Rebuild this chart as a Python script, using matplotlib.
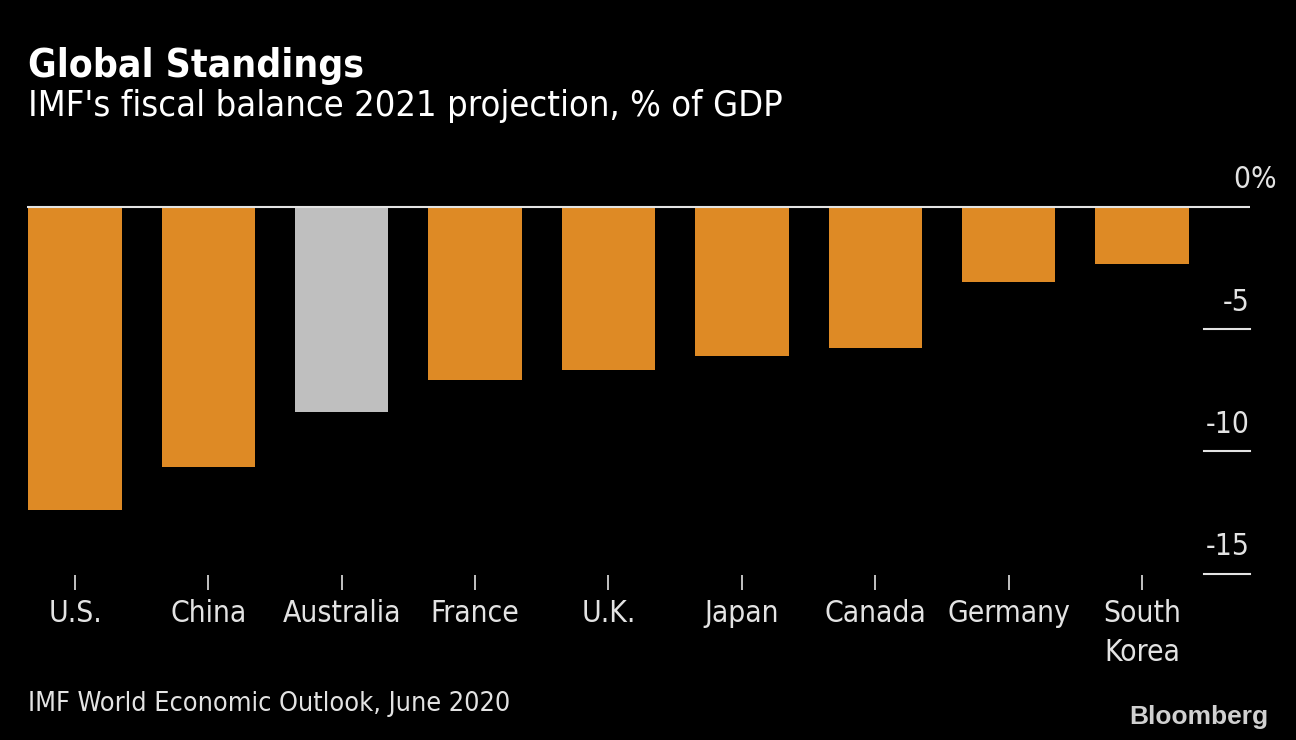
import matplotlib
matplotlib.use("Agg")
import matplotlib.pyplot as plt
import matplotlib.transforms as mtransforms

countries = ["U.S.", "China", "Australia", "France", "U.K.", "Japan", "Canada", "Germany", "South\nKorea"]
values = [-12.4, -10.65, -8.4, -7.1, -6.67, -6.1, -5.76, -3.08, -2.34]
highlight = "Australia"
yticks = [0, -5, -10, -15]
ytick_labels = ["0", "-5", "-10", "-15"]

plt.rcParams['font.family'] = ["DejaVu Sans"]
plt.rcParams['font.stretch'] = "condensed"

ORANGE = "#DE8A25"
GREY = "#BFBFBF"
TXT = "#E3E3E3"
BG = "#000000"

fig = plt.figure(figsize=(12.96, 7.40), dpi=100, facecolor=BG)
ax = fig.add_axes([27/1296, (740-574.5)/740, (1250-27)/1296, 380/740])
ax.set_facecolor(BG)

x = list(range(len(countries)))
colors = [GREY if c == highlight else ORANGE for c in countries]
ax.bar(x, values, width=0.7, color=colors, zorder=2)

ax.set_xlim(-0.36, 8.81)
ax.set_ylim(-15.03, 0.5)

ax.axhline(0, color=TXT, lw=1.5, zorder=3)
trans = mtransforms.blended_transform_factory(ax.transAxes, ax.transData)
for yv, lab in zip(yticks, ytick_labels):
    if yv != 0:
        ax.plot([0.962, 1.0], [yv, yv], transform=trans, color=TXT, lw=1.5, clip_on=False)
    ax.text(1.0, yv + 0.75, lab, transform=trans, ha="right", va="baseline",
            color=TXT, fontsize=21.5, clip_on=False)
ax.text(1.0, yticks[0] + 0.75, "%", transform=trans, ha="left", va="baseline",
        color=TXT, fontsize=21.5, clip_on=False)

ax.set_yticks([])
ax.set_xticks(x)
ax.set_xticklabels(countries, color=TXT, fontsize=21.5, linespacing=1.4)
ax.tick_params(axis="x", colors=TXT, length=11, width=1.2, pad=7, labelcolor=TXT)
for s in ax.spines.values():
    s.set_visible(False)

fig.text(28/1296, 1 - 77/740, "Global Standings", color="white", fontsize=28,
         fontweight="bold", ha="left", va="baseline")
fig.text(28/1296, 1 - 116/740, "IMF's fiscal balance 2021 projection, % of GDP",
         color="white", fontsize=26, ha="left", va="baseline")
fig.text(28/1296, 1 - 711/740, "IMF World Economic Outlook, June 2020",
         color=TXT, fontsize=19.4, ha="left", va="baseline")
fig.text(1268/1296, 1 - 724/740, "Bloomberg", color="#D0D0D0", fontsize=19,
         fontweight="bold", family=["Liberation Sans", "DejaVu Sans"], fontstretch="normal",
         ha="right", va="baseline")

fig.savefig("out.png", dpi=100, facecolor=BG)
